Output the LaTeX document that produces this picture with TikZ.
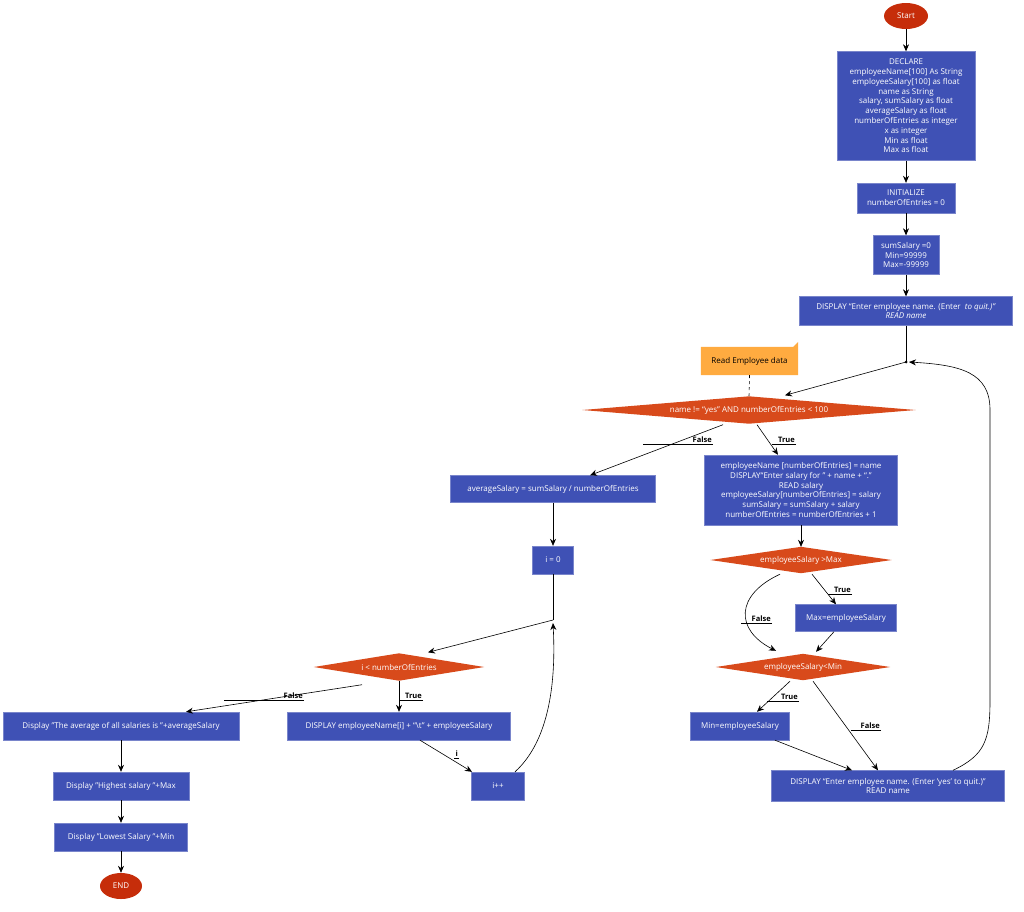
\documentclass[tikz,border=0pt]{standalone}
\usepackage{fontspec}
\setmainfont{Open Sans}
\usetikzlibrary{arrows.meta,shapes.geometric}
\definecolor{bx}{HTML}{3F51B5}
\definecolor{dm}{HTML}{D84A1B}
\definecolor{el}{HTML}{C62D0A}
\definecolor{nt}{HTML}{FFAB40}
\begin{document}
\begin{tikzpicture}[x=1pt,y=-1pt,
  bxs/.style={fill=bx,draw=bx!70!white,text=white,inner sep=0pt,align=center,font=\fontsize{8}{9.8}\selectfont},
  els/.style={ellipse,fill=el,text=white,inner sep=0pt,font=\fontsize{8}{9.8}\selectfont},
  dtxt/.style={text=white,font=\fontsize{8}{9.8}\selectfont,inner sep=0pt},
  lab/.style={font=\bfseries\fontsize{7.5}{9}\selectfont,inner sep=1pt},
  ar/.style={-{Stealth[length=7pt,width=6pt]},black,line width=0.6pt},
  ln/.style={black,line width=0.6pt}]
\useasboundingbox (0,0) rectangle (1024,911);
\newcommand{\bnode}[5]{\node[bxs,minimum width=#3,minimum height=#4] (#1) at #2 {#5};}
\newcommand{\dnode}[5]{\node[minimum width=#3,minimum height=#4,inner sep=0pt] (#1) at #2 {};
  \fill[dm] (#1.west)--(#1.north)--(#1.east)--(#1.south)--cycle;
  \node[dtxt] at (#1) {#5};}
\node[els,minimum width=44,minimum height=26] (start) at (906,16) {Start};
\bnode{decl}{(906,106)}{138}{109}{DECLARE\\employeeName[100] As String\\employeeSalary[100] as float\\name as String\\salary, sumSalary as float\\averageSalary as float\\numberOfEntries as integer\\x as integer\\Min as float\\Max as float}
\bnode{init}{(906,198)}{98}{30}{INITIALIZE\\numberOfEntries = 0}
\bnode{sum}{(906,255)}{66}{39}{sumSalary =0\\Min=99999\\Max=-99999}
\bnode{disp1}{(906,311)}{213}{29}{DISPLAY “Enter employee name. (Enter \textit{ to quit.)”}\\\textit{READ name}}
\coordinate (j1) at (906,362);
\fill (j1) circle (1.5);
\node[inner sep=0pt,minimum width=97,minimum height=28,font=\fontsize{8}{9.8}\selectfont] (note) at (749.5,361) {Read Employee data};
\fill[nt] (note.south west)--(note.north west)--([xshift=-5]note.north east)--([yshift=5]note.north east)--(note.south east)--cycle;
\node[font=\fontsize{8}{9.8}\selectfont] at (note) {Read Employee data};
\dnode{d1}{(749,410)}{333}{27}{name != “yes” AND numberOfEntries < 100}
\draw[ln,dashed] (note.south) -- (d1.north);
\bnode{avg}{(553,489)}{205}{27}{averageSalary = sumSalary / numberOfEntries}
\bnode{asg}{(801,490)}{193}{70}{employeeName [numberOfEntries] = name\\DISPLAY“Enter salary for ” + name + “.”\\READ salary\\employeeSalary[numberOfEntries] = salary\\sumSalary = sumSalary + salary\\numberOfEntries = numberOfEntries + 1}
\bnode{i0}{(553,560)}{41}{28}{i = 0}
\coordinate (j2) at (553,620);
\dnode{di}{(399,667)}{170}{27}{i < numberOfEntries}
\bnode{davg}{(121,726)}{236}{28}{Display "The average of all salaries is "+averageSalary}
\bnode{demp}{(399,726)}{223}{28}{DISPLAY employeeName[i] + “\textbackslash t” + employeeSalary}
\bnode{ipp}{(498,786)}{53}{28}{i++}
\bnode{hi}{(121,786)}{136}{28}{Display "Highest salary "+Max}
\bnode{lo}{(121,837)}{133}{28}{Display "Lowest Salary "+Min}
\node[els,minimum width=42,minimum height=26] (end) at (121,886) {END};
\dnode{dmax}{(801,560)}{181}{26}{employeeSalary >Max}
\bnode{maxb}{(846,618)}{101}{27}{Max=employeeSalary}
\dnode{dmin}{(803,667)}{174}{26}{employeeSalary<Min}
\bnode{minb}{(740,726)}{99}{28}{Min=employeeSalary}
\bnode{disp2}{(888,786)}{233}{31}{DISPLAY “Enter employee name. (Enter 'yes' to quit.)”\\READ name}
% edges
\draw[ar] (start) -- (decl);
\draw[ar] (decl) -- (init);
\draw[ar] (init) -- (sum);
\draw[ar] (sum) -- (disp1);
\draw[ln] (disp1.south) -- (j1);
\draw[ar] (j1) -- ([xshift=36,yshift=1]d1.north);
\draw[ar] ([xshift=-26,yshift=-1]d1.south) -- ([xshift=37]avg.north);
\draw[ar] ([xshift=8,yshift=-1]d1.south) -- ([xshift=-23]asg.north);
\draw[ar] (asg) -- (dmax);
\draw[ar] ([xshift=11,yshift=-1]dmax.south) -- ([xshift=-10]maxb.north);
\draw[ar] ([xshift=-21,yshift=-1]dmax.south) .. controls (735,595) and (735,630) .. ([xshift=-27,yshift=3]dmin.north);
\draw[ar] ([xshift=-12]maxb.south) -- ([xshift=13,yshift=2]dmin.north);
\draw[ar] ([xshift=-13,yshift=-1]dmin.south) -- ([xshift=17]minb.north);
\draw[ar] ([xshift=10,yshift=-1]dmin.south) -- ([xshift=-10]disp2.north);
\draw[ar] ([xshift=35]minb.south) -- ([xshift=-36]disp2.north);
\draw[ar] ([xshift=65]disp2.north) .. controls (985,755) and (990,740) .. (990,700) -- (990,410) .. controls (990,372) and (960,365) .. ([xshift=3]j1);
\draw[ar] (avg) -- (i0);
\draw[ln] (i0.south) -- (j2);
\draw[ar] (j2) -- ([xshift=29,yshift=1]di.north);
\draw[ar] ([xshift=-37,yshift=-4]di.south) -- ([xshift=65]davg.north);
\draw[ar] (di.south) -- (demp.north);
\draw[ar] ([xshift=21]demp.south) -- ([xshift=-26]ipp.north);
\draw[ar] ([xshift=17]ipp.north) .. controls (550,740) and (556,680) .. ([yshift=-3]j2);
\draw[ar] (davg) -- (hi);
\draw[ar] (hi) -- (lo);
\draw[ar] (lo) -- (end);
% labels
\newcommand{\lbl}[4]{\node[lab,anchor=south east] (#1) at #2 {#3}; \draw[ln,line width=0.4pt] (#1.south east) -- ++(-#4,0);}
\lbl{l1}{(713,444)}{False}{70}
\lbl{l2}{(796,444)}{True}{24}
\lbl{l3}{(852,594)}{True}{24}
\lbl{l4}{(772,623)}{False}{31}
\lbl{l5}{(799,701)}{True}{32}
\lbl{l6}{(881,730)}{False}{30}
\lbl{l7}{(304,700)}{False}{80}
\lbl{l8}{(423,700)}{True}{24}
\lbl{l9}{(459,758)}{i}{5}
\end{tikzpicture}
\end{document}
